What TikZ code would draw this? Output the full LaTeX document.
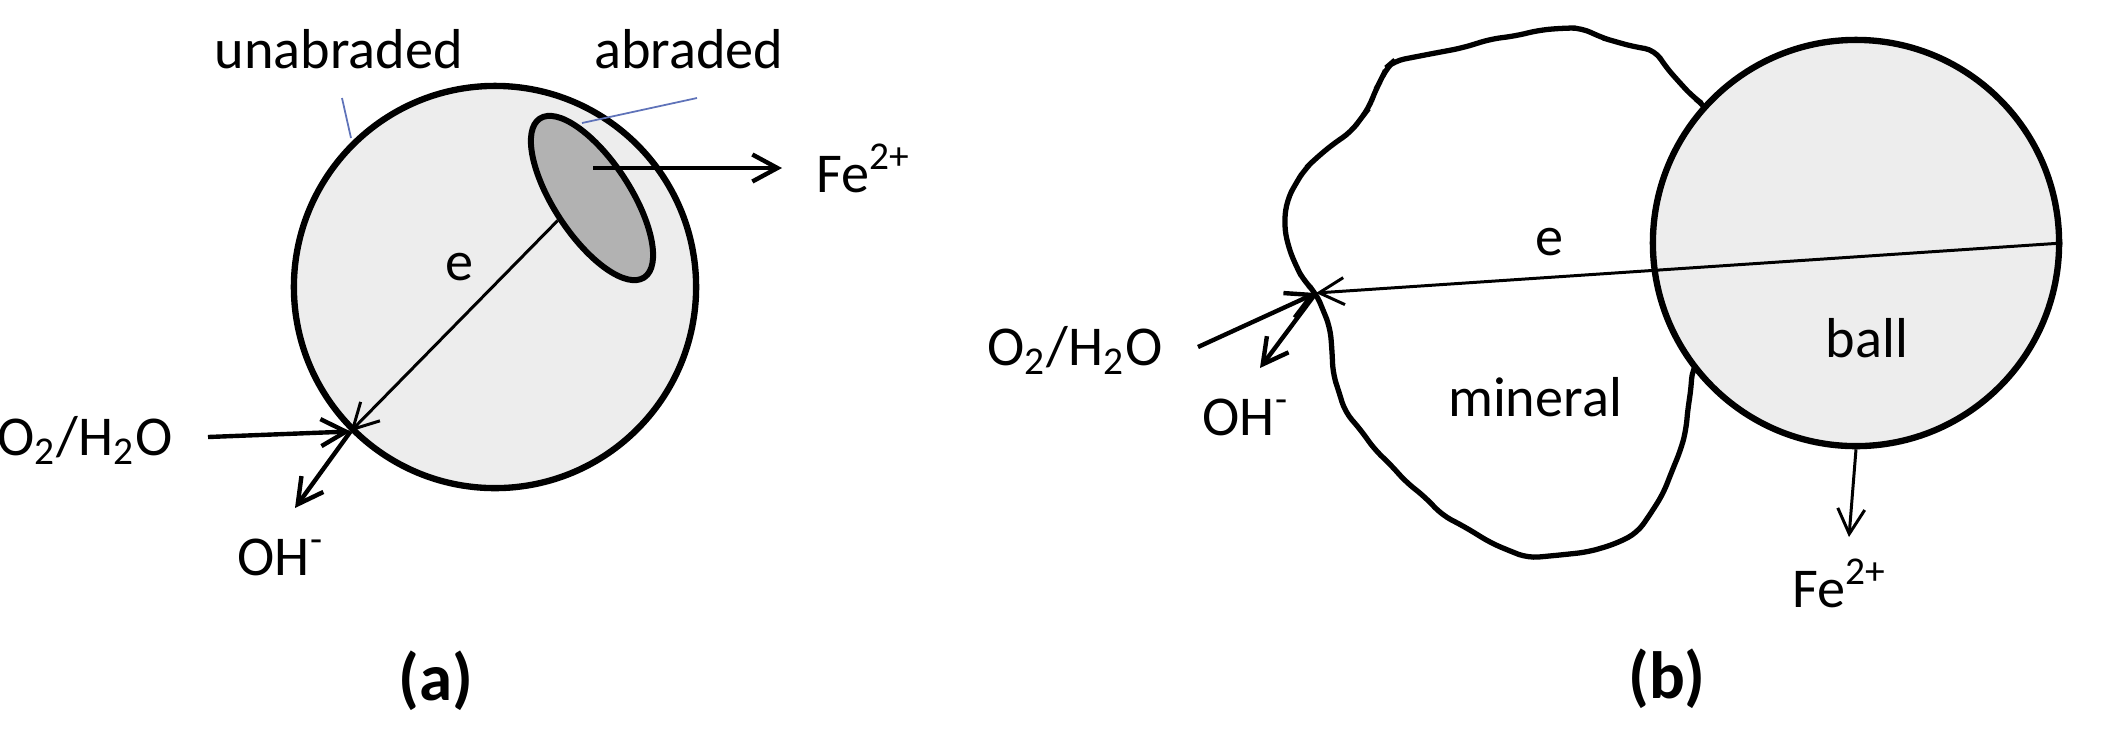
\documentclass[tikz,border=0pt]{standalone}
\usepackage{fontspec}
\setmainfont{Carlito}
\usetikzlibrary{arrows.meta,shapes.geometric}
\definecolor{leaderblue}{RGB}{95,115,185}
\tikzset{
  lbl/.style={font=\fontsize{16}{19}\selectfont, inner sep=0pt},
  panellabel/.style={font=\fontsize{19}{23}\selectfont\bfseries, inner sep=0pt},
  arr/.style={-{Straight Barb[length=2.5mm,width=2.7mm]}, line width=1.25pt},
  thinarr/.style={arr, line width=0.85pt},
  leader/.style={leaderblue, line width=0.5pt},
  grain/.style={circle, draw, line width=1.8pt, fill=black!7, minimum size=4.02cm, inner sep=0pt},
  patch/.style={ellipse, draw, line width=1.7pt, fill=black!30, inner sep=0pt},
}

\begin{document}
\begin{tikzpicture}[x=0.01cm, y=-0.01cm]
    \useasboundingbox (0,0) rectangle (2105,732);

    % (a) ball with abraded patch
    \node[grain] (grainA) at (495,287) {};
    \node[patch, rotate=-56.7, minimum width=1.9cm, minimum height=0.76cm] (patchA) at (592,198) {};
    \coordinate (contactA) at (grainA.225);

    % Labels and leader lines
    \node[lbl, anchor=base] (unabr) at (339,68) {unabraded};
    \node[lbl, anchor=base] (abr) at (689,68) {abraded};
    \coordinate (unabrTop) at (342,98);
    \coordinate (unabrEnd) at (351,138);
    \coordinate (abrTop) at (697,98);
    \coordinate (abrEnd) at (582,123);
    \draw[leader] (unabrTop) -- (unabrEnd);
    \draw[leader] (abrTop) -- (abrEnd);

    % Fe2+ leaving the patch
    \node[lbl, anchor=base west] (feA) at (816,192) {Fe\textsuperscript{2+}};
    \coordinate (feStartA) at (593,168);
    \coordinate (feEndA) at (782,168);
    \draw[arr] (feStartA) -- (feEndA);

    % Electron path e
    \node[lbl, anchor=base] (eA) at (459,280) {e};
    \draw[thinarr] (patchA.south) -- (contactA);

    % O2/H2O in, OH- out
    \node[lbl, anchor=base east] (o2A) at (173,455) {O\textsubscript{2}/H\textsubscript{2}O};
    \coordinate (o2StartA) at (208,437);
    \draw[arr] (o2StartA) -- (contactA);
    \node[lbl, anchor=base west] (ohA) at (237,575) {OH\textsuperscript{-}};
    \coordinate (ohEndA) at (295,508);
    \draw[arr] (contactA) -- (ohEndA);

    \node[panellabel, anchor=base] (capA) at (436,700) {(a)};

    % (b) mineral grain touching the ball
    \draw[line width=1.5pt, fill=white, rounded corners=3pt]
        (1394,61) -- (1430,54) -- (1462,48) -- (1491,39) -- (1515,36) -- (1540,30)
        -- (1565,28) -- (1582,28) -- (1600,37) -- (1613,41) -- (1635,47) -- (1655,50)
        -- (1665,66) -- (1680,83) -- (1693,97) -- (1704,105) -- (1740,160) -- (1745,300)
        -- (1692,369) -- (1691,390) -- (1688,407) -- (1686,430) -- (1681,449)
        -- (1672,471) -- (1663,494) -- (1649,516) -- (1637,533) -- (1615,544)
        -- (1588,552) -- (1560,555) -- (1528,558) -- (1510,551) -- (1491,543)
        -- (1465,527) -- (1442,515) -- (1425,497) -- (1406,482) -- (1390,464)
        -- (1375,450) -- (1360,429) -- (1345,412) -- (1339,392) -- (1333,374)
        -- (1332,350) -- (1330,327) -- (1323,310) -- (1316,293) -- (1304,281)
        -- (1296,266) -- (1288,246) -- (1284,224) -- (1287,200) -- (1296,183)
        -- (1305,169) -- (1314,160) -- (1333,144) -- (1351,132) -- (1362,117)
        -- (1369,108) -- (1375,91) -- (1381,80) -- (1387,67) -- cycle;
    \node[grain, minimum size=4.06cm] (ballB) at (1856,243) {};
    \coordinate (contactB) at (1316,293);

    \node[lbl, anchor=base] (mineral) at (1535,416) {mineral};
    \node[lbl, anchor=base] (ballLbl) at (1867,357) {ball};

    % Electron path e through the ball
    \node[lbl, anchor=base] (eB) at (1549,255) {e};
    \draw[thinarr] (ballB.east) -- (contactB);

    % O2/H2O in, OH- out
    \node[lbl, anchor=base east] (o2B) at (1163,365) {O\textsubscript{2}/H\textsubscript{2}O};
    \coordinate (o2StartB) at (1198,347);
    \draw[arr] (o2StartB) -- (contactB);
    \node[lbl, anchor=base west] (ohB) at (1202,435) {OH\textsuperscript{-}};
    \coordinate (ohEndB) at (1260,368);
    \draw[arr] (contactB) -- (ohEndB);

    % Fe2+ from the ball
    \node[lbl, anchor=base west] (feB) at (1792,607) {Fe\textsuperscript{2+}};
    \coordinate (feEndB) at (1849,537);
    \draw[thinarr] (ballB.south) -- (feEndB);

    \node[panellabel, anchor=base] (capB) at (1667,698) {(b)};
\end{tikzpicture}
\end{document}
